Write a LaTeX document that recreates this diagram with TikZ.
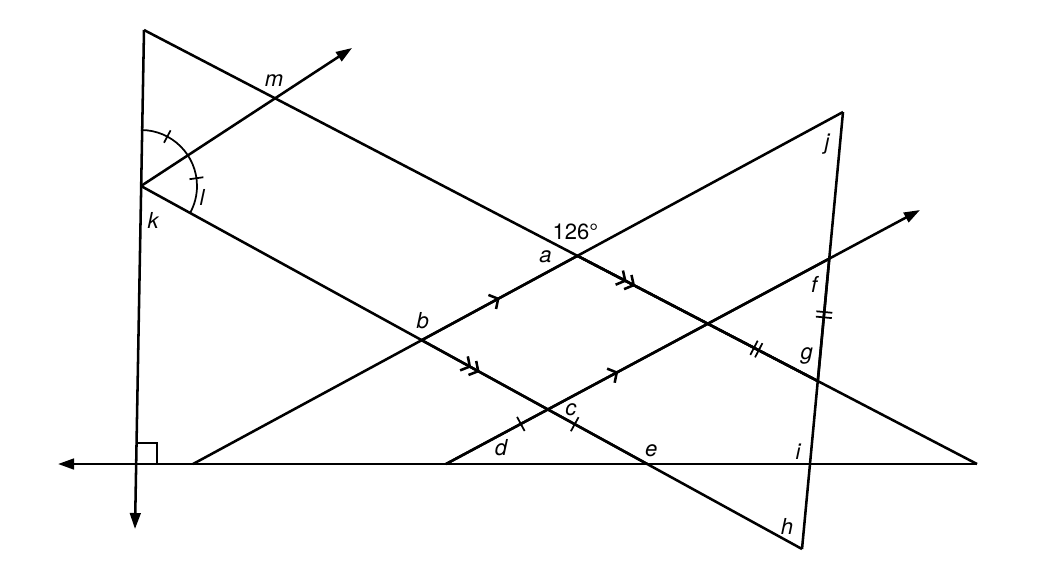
\documentclass[tikz,border=0pt]{standalone}
\usepackage{fontspec}
\setmainfont{TeX Gyre Heros}
\usetikzlibrary{calc,arrows.meta,decorations.markings}

\tikzset{every picture/.style={line width=1.9pt}}
\tikzset{
  lbl/.style={font=\fontsize{16.5}{19}\selectfont\itshape, inner sep=0pt},
  endtip/.style={-{Triangle[length=12pt,width=8pt]}},
  parone/.style={postaction={decorate}, decoration={markings, mark=at position #1 with {\arrow{Straight Barb[length=5pt,width=12pt]}}}},
  partwo/.style={postaction={decorate}, decoration={markings, mark=at position #1 with {\arrow{Straight Barb[length=5pt,width=12pt] Straight Barb[length=5pt,width=12pt]}}}},
  tickone/.style={postaction={decorate}, decoration={markings, mark=at position #1 with {\draw[line width=1.3pt] (0,-6pt) -- (0,6pt);}}},
  ticktwo/.style={postaction={decorate}, decoration={markings, mark=at position #1 with {\draw[line width=1.3pt] (-2pt,-6pt) -- (-2pt,6pt) (2pt,-6pt) -- (2pt,6pt);}}}
}

\begin{document}
\begin{tikzpicture}[x=0.75pt,y=0.75pt,yscale=-1,xscale=1]
\useasboundingbox (0,0) rectangle (1044,576);

% end points
\coordinate (top) at (144,30);
\coordinate (lend) at (977,464);
\coordinate (larr) at (58,464);
\coordinate (vbot) at (135,529);
\coordinate (k) at (141,186);
\coordinate (hv) at (802,549);
\coordinate (sthree) at (193,464);
\coordinate (jv) at (843,112);
\coordinate (sfour) at (446,464);
\coordinate (tfour) at (920,210);
\coordinate (tone) at (352,48);

% crossing points
\coordinate (m) at (intersection of top--lend and k--tone);
\coordinate (a) at (intersection of top--lend and sthree--jv);
\coordinate (b) at (intersection of k--hv and sthree--jv);
\coordinate (c) at (intersection of k--hv and sfour--tfour);
\coordinate (e) at (intersection of k--hv and larr--lend);
\coordinate (f) at (intersection of jv--hv and sfour--tfour);
\coordinate (g) at (intersection of jv--hv and top--lend);
\coordinate (i) at (intersection of jv--hv and larr--lend);
\coordinate (rc) at (intersection of top--vbot and larr--lend);

% lines
\draw [endtip] (lend) -- (larr);
\draw [endtip] (top) -- (vbot);
\draw (top) -- (lend);
\draw (k) -- (hv);
\draw [endtip] (k) -- (tone);
\draw (sthree) -- (jv);
\draw [endtip] (sfour) -- (tfour);
\draw (jv) -- (hv);

% right angle
\draw [line width=1.3pt] ($(rc)+(0,-21)$) -- ($(rc)+(21,-21)$) -- ($(rc)+(21,0)$);

% angle at k
\draw [line width=1.3pt] ($(k)+(-90:56)$) arc[start angle=-90, end angle=29, radius=56];
\draw [line width=1.3pt] ($(k)+(-62:49)$) -- ($(k)+(-62:63)$);
\draw [line width=1.3pt] ($(k)+(-8:49)$) -- ($(k)+(-8:63)$);

% parallel and equal marks
\draw [parone=0.5] (b) -- (a);
\draw [parone=0.25] (c) -- (f);
\draw [partwo=0.24] (a) -- (g);
\draw [partwo=0.46] (b) -- (c);
\draw [tickone=23pt] (c) -- (sfour);
\draw [tickone=23pt] (c) -- (e);
\draw [ticktwo=52pt] (g) -- (a);
\draw [ticktwo=50pt] (g) -- (f);

% labels
\node [lbl] (lm) at ($(m)+(-1,-18)$) {m};
\node [lbl] (ll) at ($(k)+(61,11)$) {l};
\node [lbl] (lk) at ($(k)+(12,34)$) {k};
\node [lbl, font=\fontsize{16.5}{19}\selectfont] (ldeg) at ($(a)+(-2,-24)$) {126°};
\node [lbl] (la) at ($(a)+(-32,1)$) {a};
\node [lbl] (lb) at ($(b)+(1,-20)$) {b};
\node [lbl] (lc) at ($(c)+(23,0)$) {c};
\node [lbl] (ld) at ($(sfour)+(55,-16)$) {d};
\node [lbl] (le) at ($(e)+(4,-13)$) {e};
\node [lbl] (lf) at ($(f)+(-15,26)$) {f};
\node [lbl] (lg) at ($(g)+(-11,-25)$) {g};
\node [lbl] (li) at ($(i)+(-12,-12)$) {i};
\node [lbl] (lh) at ($(hv)+(-15,-23)$) {h};
\node [lbl] (lj) at ($(jv)+(-16,32)$) {j};

\end{tikzpicture}
\end{document}
